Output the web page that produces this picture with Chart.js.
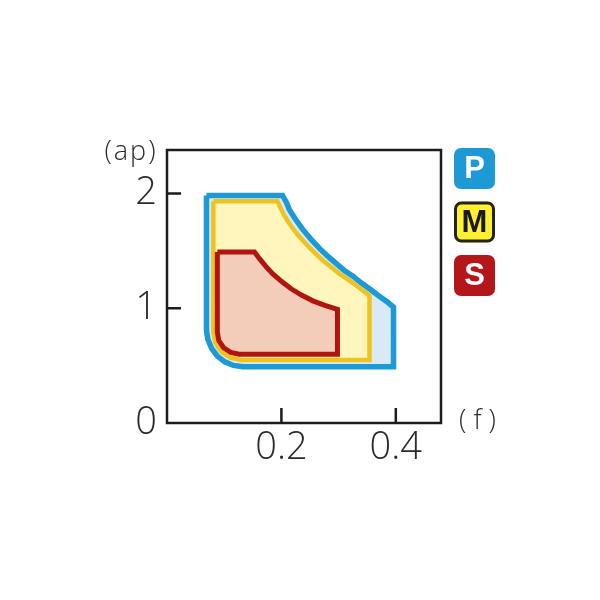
<!DOCTYPE html>
<html>
<head>
<meta charset="utf-8">
<script src="https://cdn.jsdelivr.net/npm/chart.js@4"></script>
<style>
  html, body { margin: 0; padding: 0; background: #fff; }
  canvas { display: block; }
</style>
</head>
<body>
<canvas id="chart" width="600" height="600"></canvas>
<script>
(function () {
  "use strict";

  // ranges P / M / S (f, ap)
  var pF  = [0.069, 0.202, 0.209, 0.214, 0.224, 0.237, 0.252, 0.267, 0.282, 0.296, 0.31, 0.325, 0.34, 0.354, 0.37, 0.384, 0.396,
             0.396, 0.1325, 0.116, 0.101, 0.088, 0.078, 0.0715, 0.069, 0.069];
  var pAp = [1.983, 1.983, 1.92, 1.86, 1.78, 1.69, 1.60, 1.52, 1.45, 1.39, 1.33, 1.28, 1.22, 1.17, 1.11, 1.06, 1.01,
             0.49, 0.49, 0.502, 0.533, 0.583, 0.65, 0.727, 0.808, 1.983];

  var mF  = [0.081, 0.193, 0.199, 0.205, 0.215, 0.228, 0.243, 0.258, 0.273, 0.288, 0.303, 0.318, 0.333, 0.345, 0.354,
             0.354, 0.130, 0.111, 0.095, 0.0845, 0.081, 0.081];
  var mAp = [1.933, 1.933, 1.87, 1.81, 1.73, 1.645, 1.56, 1.485, 1.415, 1.355, 1.295, 1.245, 1.19, 1.145, 1.11,
             0.55, 0.55, 0.569, 0.622, 0.701, 0.795, 1.933];

  var sF  = [0.088, 0.153, 0.162, 0.172, 0.185, 0.2, 0.217, 0.235, 0.255, 0.276, 0.298,
             0.298, 0.126, 0.1115, 0.099, 0.0905, 0.088, 0.088];
  var sAp = [1.49, 1.49, 1.43, 1.37, 1.30, 1.235, 1.17, 1.115, 1.065, 1.025, 0.99,
             0.6, 0.6, 0.615, 0.656, 0.719, 0.792, 1.49];

  var xTicks = [0.2, 0.4];
  var yTicks = [0, 1, 2];
  var xMax = 0.479;
  var yMax = 2.38;

  var badges = ["P", "M", "S"];

  var C = {
    blue: "#1d9ad6",
    blueFill: "#d7eaf6",
    yellow: "#efc21e",
    yellowFill: "#fff6bd",
    red: "#b0160f",
    redFill: "#f3cdb9",
    ink: "#2a2a2a",
    frame: "#1c1c1c",
  };

  function pts(xs, ys) {
    return xs.map(function (x, i) { return { x: x, y: ys[i] }; });
  }

  function zona(xs, ys, cor, fundo, larg, ordem) {
    return {
      data: pts(xs, ys),
      showLine: true,
      fill: "shape",
      borderColor: cor,
      backgroundColor: fundo,
      borderWidth: larg,
      borderJoinStyle: "miter",
      pointRadius: 0,
      pointHoverRadius: 0,
      tension: 0,
      order: ordem,
    };
  }

  var extras = {
    id: "extras",
    afterDraw: function (chart) {
      var ctx = chart.ctx;
      var a = chart.chartArea;
      var sx = chart.scales.x, sy = chart.scales.y;
      ctx.save();
      ctx.strokeStyle = C.frame;
      ctx.lineWidth = 2.5;
      ctx.strokeRect(a.left, a.top, a.right - a.left, a.bottom - a.top);

      // ticks pointing inwards
      ctx.beginPath();
      yTicks.forEach(function (v) {
        if (v === 0) return;
        var y = sy.getPixelForValue(v);
        ctx.moveTo(a.left, y); ctx.lineTo(a.left + 14, y);
      });
      xTicks.forEach(function (v) {
        var x = sx.getPixelForValue(v);
        ctx.moveTo(x, a.bottom); ctx.lineTo(x, a.bottom - 15);
      });
      ctx.stroke();

      // axis names
      ctx.fillStyle = C.ink;
      ctx.font = "300 27px 'Open Sans'";
      ctx.textAlign = "center";
      ctx.textBaseline = "middle";
      ctx.letterSpacing = "2px";
      ctx.fillText("(ap)", 131, 152);
      ctx.letterSpacing = "7px";
      ctx.fillText("(f)", 481, 421);
      ctx.letterSpacing = "0px";

      // badges
      var estilos = [
        { bg: C.blue, fg: "#ffffff", bd: null },
        { bg: "#fff130", fg: "#1a1a1a", bd: "#222222" },
        { bg: "#b3171a", fg: "#ffffff", bd: null },
      ];
      badges.forEach(function (t, i) {
        var e = estilos[i];
        var bx = 454, by = 148 + i * 53.5, w = 41, h = 41;
        ctx.beginPath();
        ctx.roundRect(bx, by, w, h, 7);
        ctx.fillStyle = e.bg;
        ctx.fill();
        if (e.bd) {
          ctx.lineWidth = 3;
          ctx.strokeStyle = e.bd;
          ctx.beginPath();
          ctx.roundRect(bx + 1.5, by + 1.5, w - 3, h - 3, 6);
          ctx.stroke();
        }
        ctx.fillStyle = e.fg;
        ctx.font = "bold 31px 'Liberation Sans', Arial, sans-serif";
        ctx.fillText(t, bx + w / 2, by + h / 2 + 1);
      });
      ctx.restore();
    },
  };

  new Chart(document.getElementById("chart"), {
    type: "scatter",
    data: {
      datasets: [
        zona(pF, pAp, C.blue, C.blueFill, 5.5, 3),
        zona(mF, mAp, C.yellow, C.yellowFill, 4.5, 2),
        zona(sF, sAp, C.red, C.redFill, 5, 1),
      ],
    },
    options: {
      responsive: false,
      animation: false,
      events: [],
      layout: { padding: { left: 0, top: 150, right: 159, bottom: 117 } },
      plugins: { legend: { display: false }, tooltip: { enabled: false } },
      scales: {
        x: {
          type: "linear",
          min: 0,
          max: xMax,
          grid: { display: false, drawTicks: false },
          border: { display: false },
          afterBuildTicks: function (s) { s.ticks = xTicks.map(function (v) { return { value: v }; }); },
          afterFit: function (s) { s.height = 60; },
          ticks: {
            padding: 2,
            color: C.ink,
            maxRotation: 0,
            font: { family: "'Open Sans'", size: 38, weight: 300 },
            callback: function (v) { return v.toFixed(1); },
          },
        },
        y: {
          type: "linear",
          min: 0,
          max: yMax,
          grid: { display: false, drawTicks: false },
          border: { display: false },
          afterBuildTicks: function (s) { s.ticks = yTicks.map(function (v) { return { value: v }; }); },
          afterFit: function (s) { s.width = 167; },
          ticks: {
            padding: 10,
            color: C.ink,
            font: { family: "'Open Sans'", size: 38, weight: 300 },
            callback: function (v) { return String(v); },
          },
        },
      },
    },
    plugins: [extras],
  });
})();
</script>
</body>
</html>
